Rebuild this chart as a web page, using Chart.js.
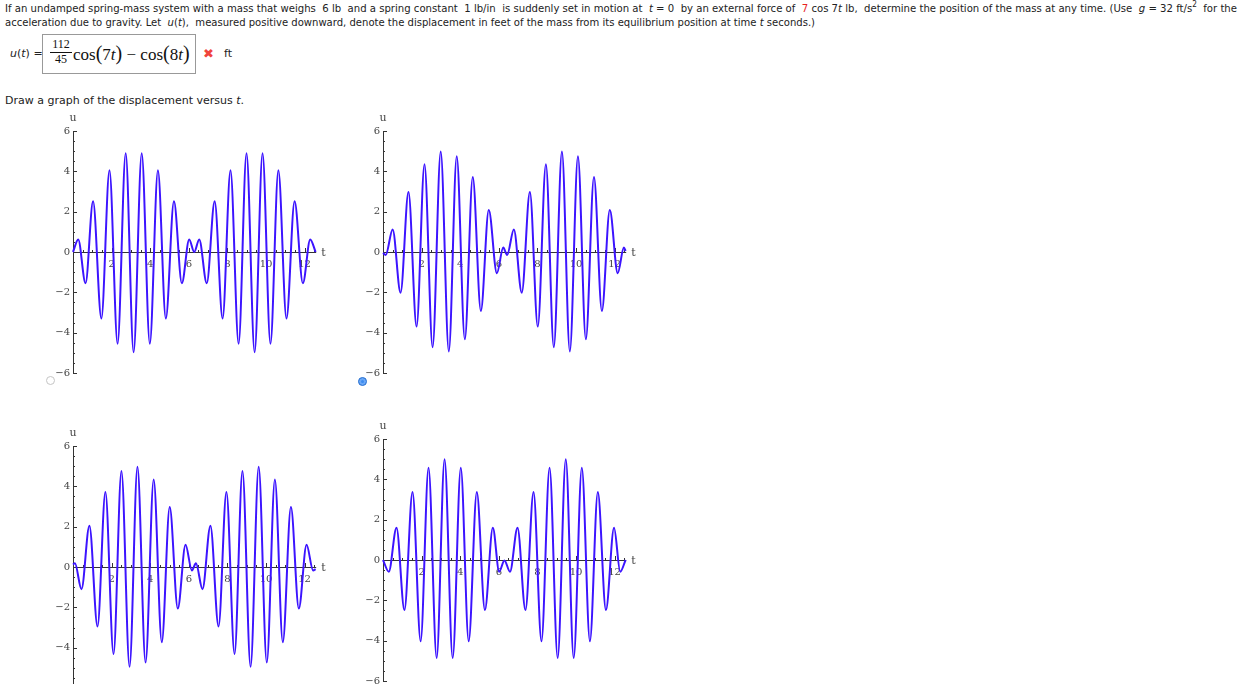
<!DOCTYPE html>
<html>
<head>
<meta charset="utf-8">
<script src="https://cdn.jsdelivr.net/npm/chart.js@4.4.0/dist/chart.umd.min.js"></script>
<style>
  html, body { margin:0; padding:0; overflow:hidden; background:#fff; width:1256px; height:684px; }
  .txt { position:absolute; left:5px; white-space:nowrap; font:11px 'DejaVu Sans', Verdana, sans-serif; color:#222; transform-origin:0 50%; }
  .txt i { font-style:italic; }
  canvas { position:absolute; }
  .radio { position:absolute; width:7px; height:7px; border-radius:50%; }
</style>
</head>
<body>
<div class="txt" id="l1" data-w="1232" style="top:2px;">If an undamped spring-mass system with a mass that weighs &nbsp;6 lb &nbsp;and a spring constant &nbsp;1 lb/in &nbsp;is suddenly set in motion at &nbsp;<i>t</i> = 0 &nbsp;by an external force of &nbsp;<span style="color:#e8231f">7</span> cos 7<i>t</i> lb, &nbsp;determine the position of the mass at any time. (Use &nbsp;<i>g</i> = 32 ft/s<sup style="font-size:8px;line-height:0">2</sup> &nbsp;for the</div>
<div class="txt" id="l2" data-w="810" style="top:16px;">acceleration due to gravity. Let &nbsp;<i>u</i>(<i>t</i>), &nbsp;measured positive downward, denote the displacement in feet of the mass from its equilibrium position at time <i>t</i> seconds.)</div>

<div class="txt" style="left:10px;top:47px;"><i>u</i>(<i>t</i>) =</div>
<div style="position:absolute;left:42px;top:34px;width:152px;height:38px;border:1px solid #999;"></div>
<div style="position:absolute;left:50px;top:38px;width:22px;text-align:center;font:12px 'Liberation Serif', serif;line-height:13px;color:#111;">112<div style="border-top:1px solid #111;margin:1px 0 0 0;"></div>45</div>
<div style="position:absolute;left:73px;top:42px;font:17px 'Liberation Serif', serif;color:#111;white-space:nowrap;">cos<span style="font-size:20px">(</span>7<i>t</i><span style="font-size:20px">)</span> &minus; cos<span style="font-size:20px">(</span>8<i>t</i><span style="font-size:20px">)</span></div>
<div style="position:absolute;left:203px;top:46px;font:bold 13px 'DejaVu Sans';color:#f0443c;">&#x2716;</div>
<div class="txt" style="left:224px;top:47px;">ft</div>

<div class="txt" style="top:94px;">Draw a graph of the displacement versus <i>t</i>.</div>

<canvas id="c1" width="300" height="290" style="left:40px;top:110px;"></canvas>
<canvas id="c2" width="300" height="290" style="left:350px;top:110px;"></canvas>
<canvas id="c3" width="300" height="290" style="left:40px;top:425px;"></canvas>
<canvas id="c4" width="300" height="290" style="left:350px;top:418px;"></canvas>

<div class="radio" style="left:46px;top:376px;border:1px solid #c4c4c4;background:#fff;"></div>
<div class="radio" style="left:358px;top:377px;background:#3d8bf0;border:1px solid #2f74d0;box-shadow:inset 0 0 0 2px #6aa8f7;"></div>

<script>
// tick labels shared by all four plots
const xTickLabels = [2, 4, 6, 8, 10, 12];
const yTickLabels = [-6, -4, -2, 0, 2, 4, 6];

// plot 1
const t1 = [0, 0.27, 0.65, 1.04, 1.47, 1.89, 2.31, 2.73, 3.14, 3.56, 3.98, 4.4, 4.81, 5.23, 5.64, 6.02, 6.28,
            6.54, 6.93, 7.34, 7.75, 8.16, 8.58, 8.99, 9.41, 9.82, 10.23, 10.64, 11.06, 11.48, 11.91, 12.29, 12.57];
const u1 = [0, 0.62, -1.55, 2.52, -3.3, 4.05, -4.55, 4.9, -4.97, 4.9, -4.55, 4.05, -3.3, 2.52, -1.55, 0.62, 0,
            0.62, -1.55, 2.52, -3.3, 4.05, -4.55, 4.9, -4.97, 4.9, -4.55, 4.05, -3.3, 2.52, -1.55, 0.62, 0];

// plot 2 (selected one)
const t2 = [0, 0.14, 0.5, 0.91, 1.32, 1.74, 2.15, 2.57, 2.99, 3.41, 3.82, 4.24, 4.65, 5.07, 5.48, 5.9, 6.23, 6.43,
            6.78, 7.19, 7.61, 8.02, 8.44, 8.85, 9.27, 9.68, 10.1, 10.51, 10.93, 11.34, 11.75, 12.16, 12.48, 12.57];
const u2 = [-0.05, -0.15, 1.12, -2.02, 2.97, -3.7, 4.35, -4.72, 4.98, -4.93, 4.75, -4.33, 3.72, -2.92, 2.08, -1.05, 0.22, -0.15,
            1.12, -2.02, 2.97, -3.7, 4.35, -4.72, 4.98, -4.93, 4.75, -4.33, 3.72, -2.92, 2.08, -1.05, 0.22, 0.05];

// plot 3
const t3 = [0, 0.1, 0.44, 0.85, 1.27, 1.68, 2.1, 2.51, 2.93, 3.34, 3.76, 4.18, 4.6, 5.01, 5.43, 5.83, 6.16, 6.37,
            6.71, 7.12, 7.54, 7.95, 8.37, 8.78, 9.2, 9.62, 10.04, 10.46, 10.87, 11.29, 11.7, 12.1, 12.44, 12.57];
const u3 = [0.12, 0.18, -1.1, 2.05, -2.95, 3.72, -4.32, 4.76, -4.95, 4.97, -4.74, 4.34, -3.73, 2.97, -2.06, 1.1, -0.17, 0.18,
            -1.1, 2.05, -2.95, 3.72, -4.32, 4.76, -4.95, 4.97, -4.74, 4.34, -3.73, 2.97, -2.06, 1.1, -0.17, -0.1];

// plot 4
const t4 = [0, 0.3, 0.7, 1.11, 1.53, 1.95, 2.36, 2.78, 3.19, 3.61, 4.03, 4.44, 4.86, 5.28, 5.69, 6.02, 6.29,
            6.58, 6.97, 7.38, 7.8, 8.21, 8.63, 9.05, 9.47, 9.88, 10.3, 10.72, 11.13, 11.55, 11.97, 12.29, 12.57];
const u4 = [0, -0.58, 1.6, -2.48, 3.37, -4.03, 4.58, -4.86, 5.0, -4.86, 4.58, -4.03, 3.37, -2.48, 1.6, -0.58, -0.02,
            -0.58, 1.6, -2.48, 3.37, -4.03, 4.58, -4.86, 5.0, -4.86, 4.58, -4.03, 3.37, -2.48, 1.6, -0.58, 0];

// squeeze the long question lines to the width they have in the original
document.querySelectorAll('.txt[data-w]').forEach(el => {
  const w = el.getBoundingClientRect().width;
  el.style.transform = 'scaleX(' + (Number(el.dataset.w) / w) + ')';
});

// axes through the origin, Mathematica style
const originAxes = {
  id: 'originAxes',
  beforeDatasetsDraw(chart) {
    const ctx = chart.ctx, xs = chart.scales.x, ys = chart.scales.y;
    const x0 = xs.getPixelForValue(0), y0 = ys.getPixelForValue(0);
    const xEnd = xs.getPixelForValue(xs.max);
    ctx.save();
    ctx.strokeStyle = '#333';
    ctx.lineWidth = 1;
    ctx.beginPath();
    ctx.moveTo(x0, y0 + 0.5); ctx.lineTo(xEnd, y0 + 0.5);
    ctx.moveTo(x0 + 0.5, ys.getPixelForValue(-6)); ctx.lineTo(x0 + 0.5, ys.getPixelForValue(6));
    // ticks, major every 2, minor every 0.5
    for (let v = -6; v <= 6.001; v += 0.5) {
      const p = Math.round(ys.getPixelForValue(v)) + 0.5;
      const len = v % 2 === 0 ? 4 : 2;
      ctx.moveTo(x0, p); ctx.lineTo(x0 + len, p);
    }
    for (let v = 0.5; v <= xs.max; v += 0.5) {
      const p = Math.round(xs.getPixelForValue(v)) + 0.5;
      const len = v % 2 === 0 ? 4 : 2;
      ctx.moveTo(p, y0); ctx.lineTo(p, y0 - len);
    }
    ctx.stroke();

    ctx.fillStyle = '#444';
    ctx.font = '10px "DejaVu Serif", serif';
    ctx.textAlign = 'right';
    ctx.textBaseline = 'middle';
    yTickLabels.forEach(v => {
      const s = v < 0 ? '\u2212' + Math.abs(v) : String(v);
      ctx.fillText(s, x0 - 3, ys.getPixelForValue(v));
    });
    ctx.textAlign = 'center';
    xTickLabels.forEach(v => {
      ctx.fillText(String(v), xs.getPixelForValue(v), y0 + 12);
    });
    ctx.font = '11px "DejaVu Serif", serif';
    ctx.fillText('u', x0, ys.getPixelForValue(6) - 13);
    ctx.textAlign = 'left';
    ctx.fillText('t', xEnd + 5, y0 + 1);
    ctx.restore();
  }
};

function makePlot(id, ts, us) {
  const pts = ts.map((t, i) => ({ x: t, y: us[i] }));
  return new Chart(document.getElementById(id), {
    type: 'line',
    data: {
      datasets: [{
        data: pts,
        borderColor: '#3c14ff',
        borderWidth: 2,
        pointRadius: 0,
        cubicInterpolationMode: 'monotone',
        fill: false,
        clip: 6
      }]
    },
    options: {
      responsive: false,
      animation: false,
      events: [],
      layout: { padding: { left: 33, top: 21, right: 23.8, bottom: 27 } },
      plugins: { legend: { display: false }, tooltip: { enabled: false } },
      scales: {
        x: { type: 'linear', min: 0, max: 12.6, display: false },
        y: { type: 'linear', min: -6, max: 6, display: false }
      }
    },
    plugins: [originAxes]
  });
}

makePlot('c1', t1, u1);
makePlot('c2', t2, u2);
makePlot('c3', t3, u3);
makePlot('c4', t4, u4);
</script>
</body>
</html>
